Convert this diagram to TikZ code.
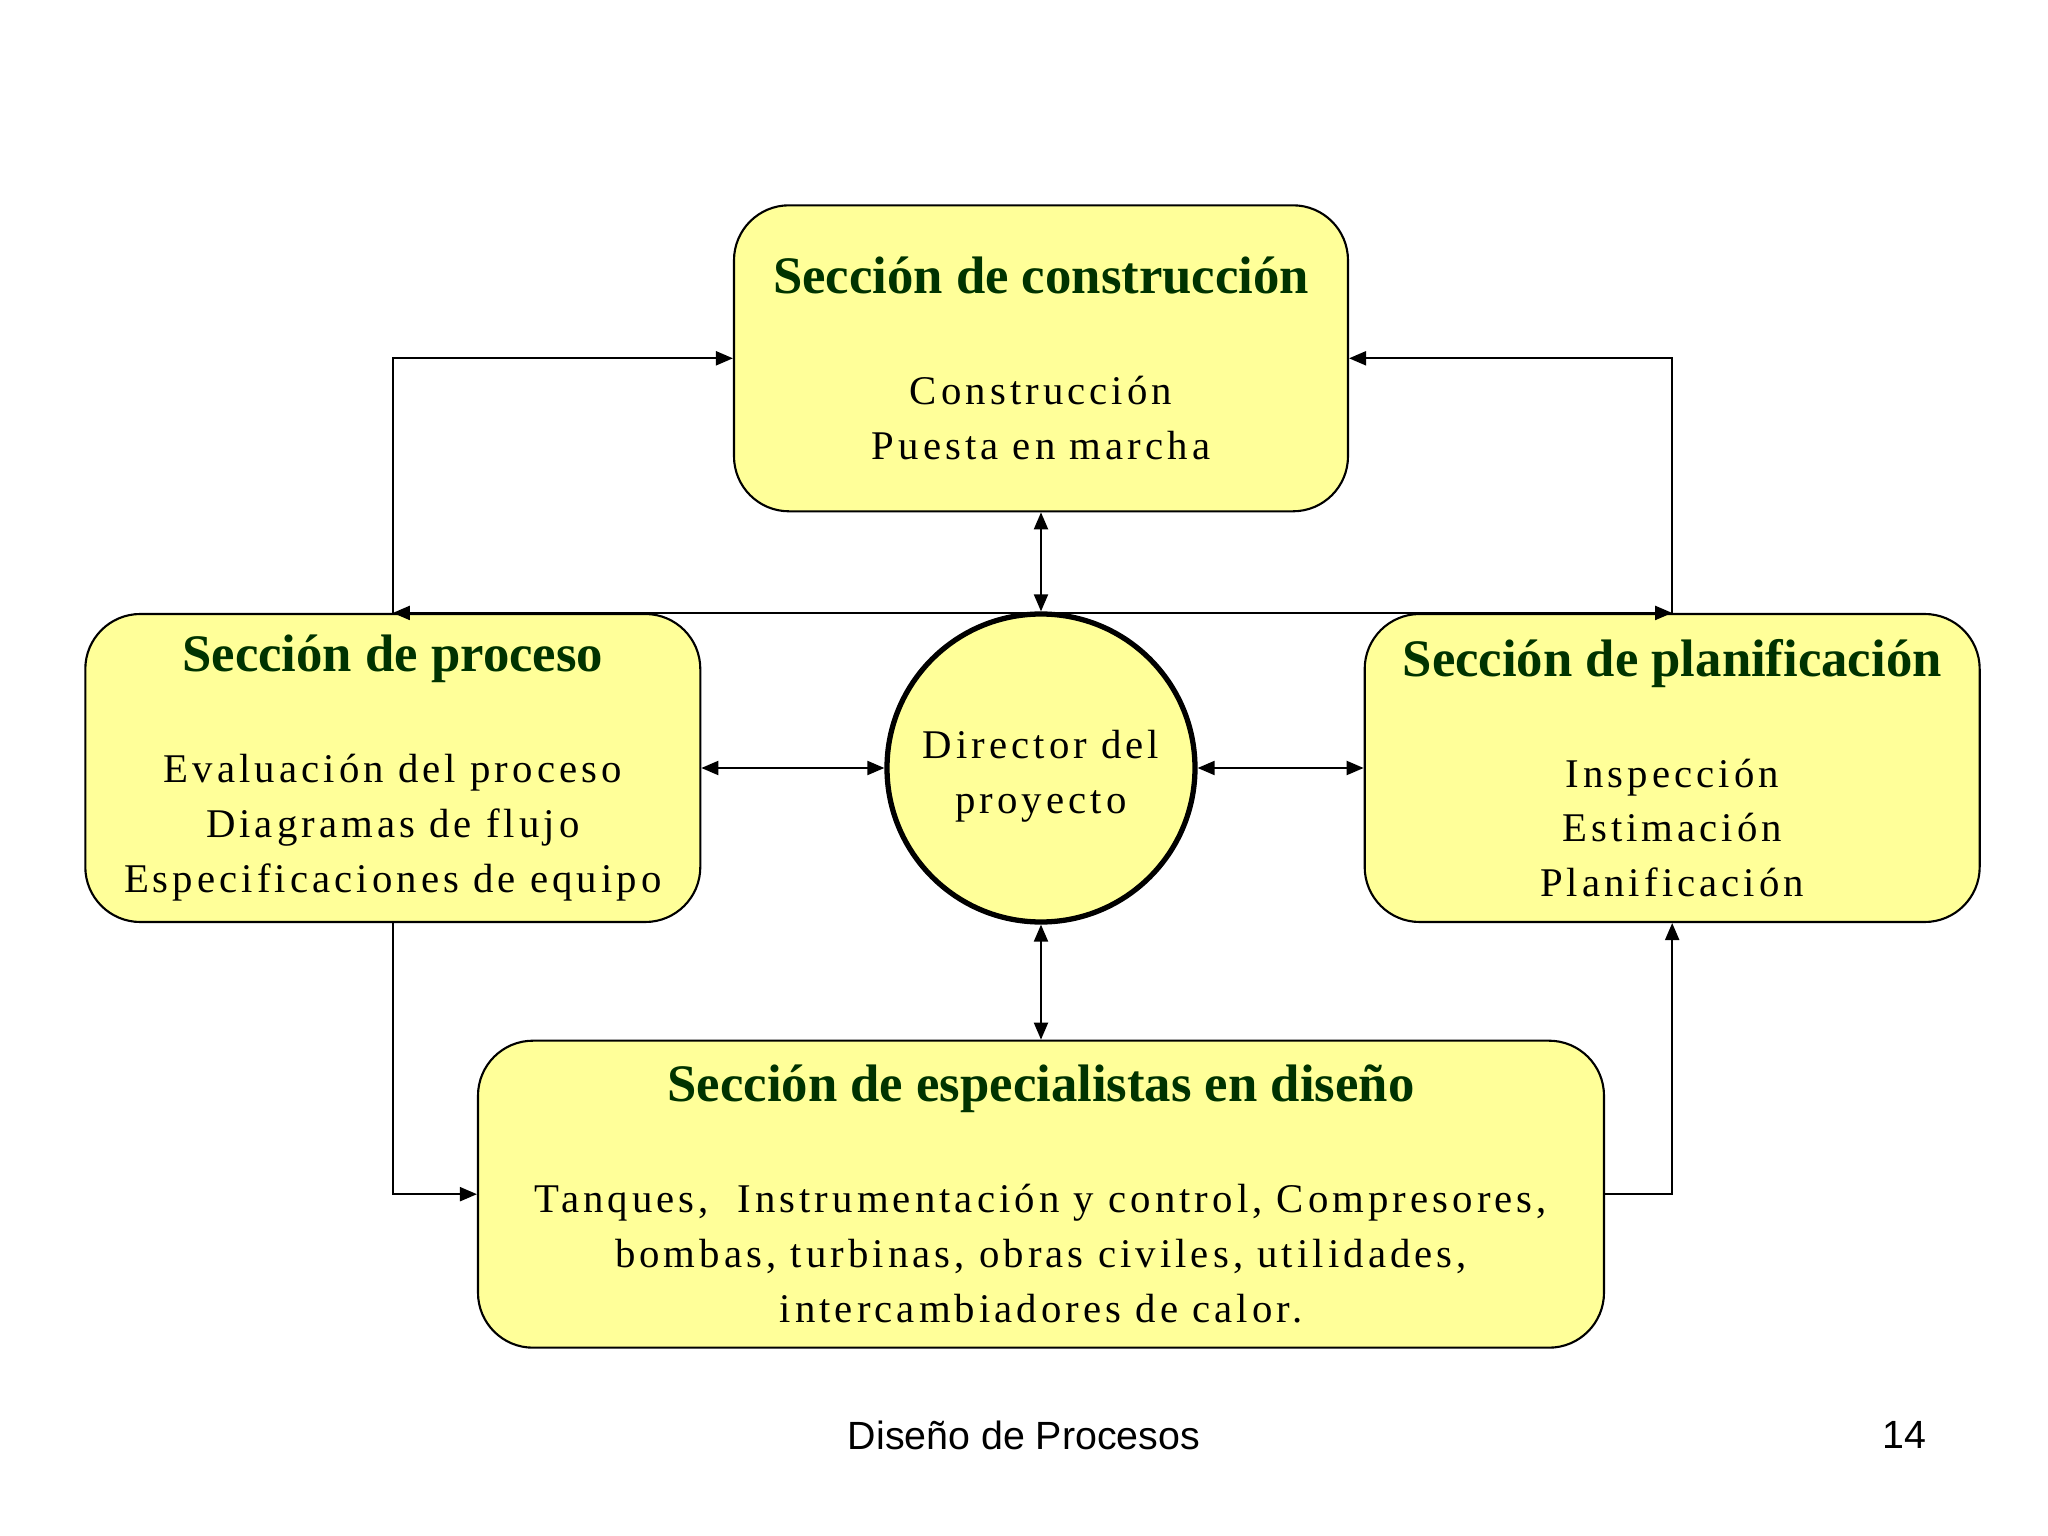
\documentclass[tikz,border=0pt]{standalone}
\usepackage{fontspec}
\setmainfont{Liberation Serif}
\newfontfamily\cuerpofont[LetterSpace=10]{Liberation Serif}
\newfontfamily\piefont{Liberation Sans}
\usepackage{xcolor}
\usetikzlibrary{arrows.meta,positioning,calc}
\definecolor{SeccionYellow}{HTML}{FFFF99}
\definecolor{TituloGreen}{HTML}{003300}
\newcommand{\cuerpotexto}{\cuerpofont\fontsize{11.6pt}{15.6pt}\selectfont}
\newcommand{\titulo}[1]{{\rmfamily\bfseries\fontsize{15pt}{18pt}\selectfont\color{TituloGreen}#1}}

\begin{document}
\begin{tikzpicture}[>={Triangle[length=0.17cm,width=0.14cm]},
    seccion/.style={draw,line width=0.6pt,fill=SeccionYellow,rounded corners=0.55cm,
      align=center,font=\cuerpotexto,inner sep=0pt},
    director/.style={circle,draw,line width=1.5pt,fill=SeccionYellow,align=center,
      font=\cuerpotexto,minimum size=3.08cm,inner sep=0pt,text height=28.5pt},
    conector/.style={line width=0.6pt}]
  \useasboundingbox (0,0) rectangle (20.48,-15.36);
  \node[director] (dir) at (10.41,-7.68) {Director del\\proyecto};
  \node[seccion,minimum width=6.14cm,minimum height=3.06cm,above=0.99cm of dir] (construccion)
    {\titulo{Sección de construcción}\\[16pt]Construcción\\Puesta en marcha};
  \node[seccion,minimum width=6.15cm,minimum height=3.08cm,left=1.83cm of dir] (proceso)
    {\titulo{Sección de proceso}\\[16pt]Evaluación del proceso\\Diagramas de flujo\\Especificaciones de equipo};
  \node[seccion,minimum width=6.15cm,minimum height=3.08cm,right=1.66cm of dir] (planificacion)
    {\titulo{Sección de planificación}\\[16pt]Inspección\\Estimación\\Planificación};
  \node[seccion,minimum width=11.26cm,minimum height=3.07cm,below=1.15cm of dir] (especialistas)
    {\titulo{Sección de especialistas en diseño}\\[16pt]Tanques,\ \ Instrumentación y control, Compresores,\\bombas, turbinas, obras civiles, utilidades,\\intercambiadores de calor.};
  % conectores
  \draw[conector,<->] (construccion) -- (dir);
  \draw[conector,<->] (dir) -- (especialistas);
  \draw[conector,<->] (proceso) -- (dir);
  \draw[conector,<->] (dir) -- (planificacion);
  \draw[conector,<->] (proceso.north) -- (planificacion.north);
  \draw[conector,->] (proceso.north) |- (construccion.west);
  \draw[conector,->] (planificacion.north) |- (construccion.east);
  \draw[conector,->] (proceso.south) |- (especialistas.west);
  \draw[conector,->] (especialistas.east) -| (planificacion.south);
  % pie de pagina
  \node[font=\piefont\fontsize{11.2pt}{13pt}\selectfont] (pie) at (10.24,-14.35) {Diseño de Procesos};
  \node[font=\piefont\fontsize{11.2pt}{13pt}\selectfont] (pagina) at (19.04,-14.35) {14};
\end{tikzpicture}
\end{document}
